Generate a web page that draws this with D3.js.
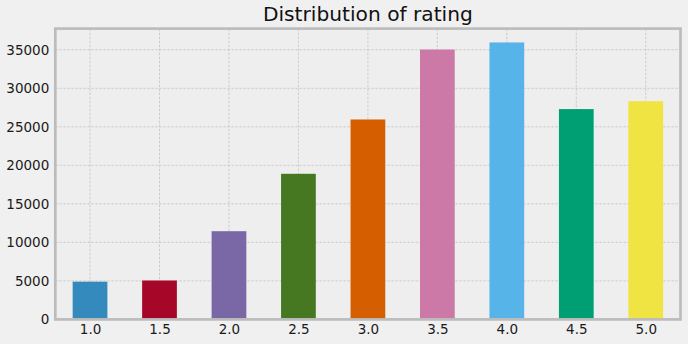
<!DOCTYPE html>
<html>
<head>
<meta charset="utf-8">
<script src="https://cdn.jsdelivr.net/npm/d3@7"></script>
<style>
  html, body { margin: 0; padding: 0; background: #f0f0f0; }
  svg { display: block; font-family: "DejaVu Sans", sans-serif; }
  .tick text { font-family: "DejaVu Sans", sans-serif; font-size: 13.5px; fill: #1a1a1a; }
</style>
</head>
<body>
<svg id="chart" width="688" height="344"></svg>
<script>
// Rating counts
const ratings = ["1.0", "1.5", "2.0", "2.5", "3.0", "3.5", "4.0", "4.5", "5.0"];
const counts = [4900, 5050, 11450, 18900, 25950, 35030, 35950, 27300, 28330];
const barColors = ["#348ABD", "#A60628", "#7A68A6", "#467821", "#D55E00",
                   "#CC79A7", "#56B4E9", "#009E73", "#F0E442"];
const yTicks = [0, 5000, 10000, 15000, 20000, 25000, 30000, 35000];
const titleText = "Distribution of rating";

const svg = d3.select("#chart");
const plotLeft = 55.3, plotRight = 680.5, plotTop = 28.6, plotBottom = 319.4;

// Linear scale on category index, half a step of padding on each side
const x = d3.scaleLinear().domain([-0.5, ratings.length - 0.5]).range([plotLeft, plotRight]);
const y = d3.scaleLinear().domain([0, d3.max(counts) * 1.05]).range([plotBottom, plotTop]);
const barW = x(0.5) - x(0);

// Axes face
svg.append("rect")
  .attr("x", plotLeft).attr("y", plotTop)
  .attr("width", plotRight - plotLeft).attr("height", plotBottom - plotTop)
  .attr("fill", "#eeeeee");

// Grid lines
const grid = svg.append("g");
grid.selectAll("line.gx").data(d3.range(ratings.length)).join("line")
  .attr("x1", d => x(d)).attr("x2", d => x(d))
  .attr("y1", plotTop).attr("y2", plotBottom)
  .attr("stroke", "#c4c4c4").attr("stroke-width", 0.8)
  .attr("stroke-dasharray", "2.5,1.5");
grid.selectAll("line.gy").data(yTicks).join("line")
  .attr("x1", plotLeft).attr("x2", plotRight)
  .attr("y1", d => y(d)).attr("y2", d => y(d))
  .attr("stroke", "#c4c4c4").attr("stroke-width", 0.8)
  .attr("stroke-dasharray", "2.5,1.5");

// Bars
svg.append("g").selectAll("rect").data(counts).join("rect")
  .attr("x", (d, i) => x(i) - barW / 2)
  .attr("width", barW)
  .attr("y", d => y(d))
  .attr("height", d => y(0) - y(d))
  .attr("fill", (d, i) => barColors[i]);

// Axes frame
svg.append("rect")
  .attr("x", plotLeft).attr("y", plotTop)
  .attr("width", plotRight - plotLeft).attr("height", plotBottom - plotTop)
  .attr("fill", "none").attr("stroke", "#bcbcbc").attr("stroke-width", 2.7);

// Y axis tick labels
const yAxis = d3.axisLeft(y).tickValues(yTicks).tickSize(0).tickPadding(6).tickFormat(d3.format("d"));
svg.append("g").attr("transform", `translate(${plotLeft},0)`).call(yAxis)
  .call(g => g.select(".domain").remove())
  .attr("font-family", null).attr("font-size", null);

// X axis tick labels
const xAxis = d3.axisBottom(x).tickValues(d3.range(ratings.length))
  .tickSize(0).tickPadding(5.5).tickFormat(i => ratings[i]);
svg.append("g").attr("transform", `translate(0,${plotBottom})`).call(xAxis)
  .call(g => g.select(".domain").remove())
  .attr("font-family", null).attr("font-size", null);

// Title
svg.append("text")
  .attr("x", (plotLeft + plotRight) / 2).attr("y", 21)
  .attr("text-anchor", "middle")
  .attr("font-size", 20.2).attr("fill", "#111")
  .text(titleText);
</script>
</body>
</html>
